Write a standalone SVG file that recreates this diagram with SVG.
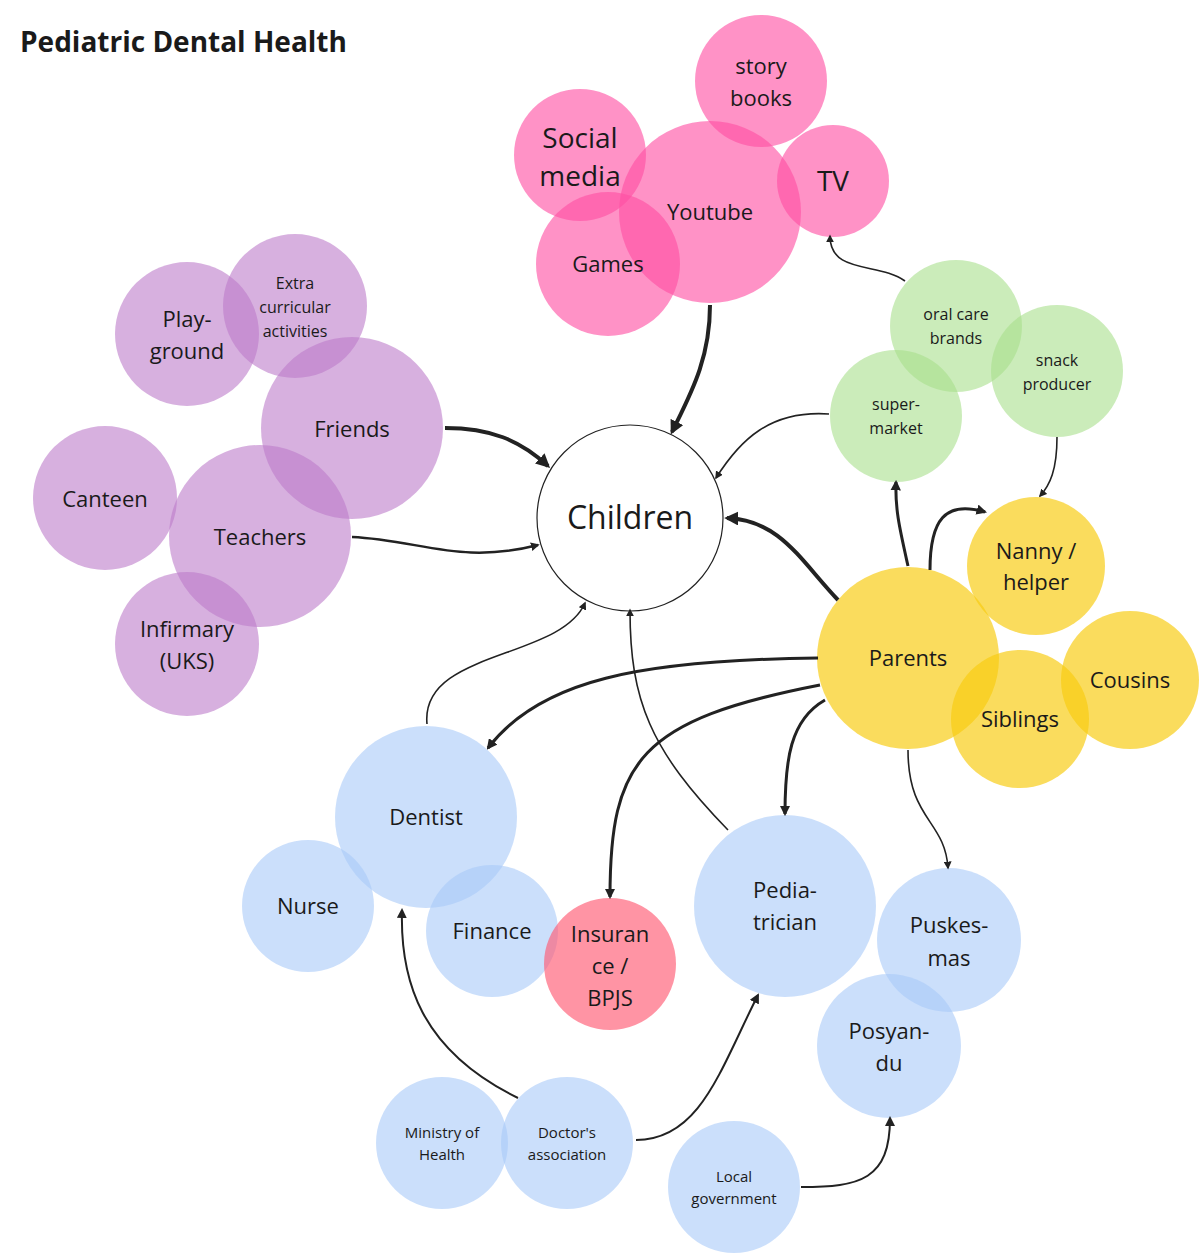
<svg xmlns="http://www.w3.org/2000/svg" width="1200" height="1254" viewBox="0 0 1200 1254">
<defs>
<style>
text{font-family:"Open Sans","Noto Sans",sans-serif;fill:#1a1a1a;text-anchor:middle}
.t{font-size:22px}.s{font-size:16px}.xs{font-size:15px}
.pk{fill:#ff4fa3;fill-opacity:.62}.pu{fill:#bd7bc9;fill-opacity:.6}.gr{fill:#a8e08c;fill-opacity:.6}
.ye{fill:#f8cc10;fill-opacity:.68}.bl{fill:#a9c9f9;fill-opacity:.6}.rd{fill:#ff5a73;fill-opacity:.65}
.c{fill:none;stroke:#222;stroke-width:1.6}.k{stroke-width:4}
</style>
<marker id="a" viewBox="0 0 10 10" refX="8" refY="5" markerWidth="5" markerHeight="5" orient="auto" markerUnits="strokeWidth"><path d="M0,0L10,5L0,10z" fill="#222"/></marker>
<marker id="b" viewBox="0 0 10 10" refX="8" refY="5" markerWidth="3.5" markerHeight="3.5" orient="auto" markerUnits="strokeWidth"><path d="M0,0L10,5L0,10z" fill="#222"/></marker>
</defs>
<rect width="1200" height="1254" fill="#fff"/>
<text x="20" y="52" style="font-size:28px;font-weight:bold;text-anchor:start">Pediatric Dental Health</text>
<g id="storybooks"><circle cx="761" cy="81" r="66" class="pk"/><text x="761" y="74" class="t">story</text><text x="761" y="106" class="t">books</text></g>
<g id="socialmedia"><circle cx="580" cy="155" r="66" class="pk"/><text x="580" y="148" style="font-size:28px">Social</text><text x="580" y="186" style="font-size:28px">media</text></g>
<g id="youtube"><circle cx="710" cy="212" r="91" class="pk"/><text x="710" y="220" class="t">Youtube</text></g>
<g id="tv"><circle cx="833" cy="181" r="56" class="pk"/><text x="833" y="191" style="font-size:28px">TV</text></g>
<g id="games"><circle cx="608" cy="264" r="72" class="pk"/><text x="608" y="272" class="t">Games</text></g>
<g id="playground"><circle cx="187" cy="334" r="72" class="pu"/><text x="187" y="327" class="t">Play-</text><text x="187" y="359" class="t">ground</text></g>
<g id="extra"><circle cx="295" cy="306" r="72" class="pu"/><text x="295" y="289" class="s">Extra</text><text x="295" y="313" class="s">curricular</text><text x="295" y="337" class="s">activities</text></g>
<g id="friends"><circle cx="352" cy="428" r="91" class="pu"/><text x="352" y="437" class="t">Friends</text></g>
<g id="canteen"><circle cx="105" cy="498" r="72" class="pu"/><text x="105" y="507" class="t">Canteen</text></g>
<g id="teachers"><circle cx="260" cy="536" r="91" class="pu"/><text x="260" y="545" class="t">Teachers</text></g>
<g id="infirmary"><circle cx="187" cy="644" r="72" class="pu"/><text x="187" y="637" class="t">Infirmary</text><text x="187" y="669" class="t">(UKS)</text></g>
<g id="children"><circle cx="630" cy="518" r="93" fill="#fff" stroke="#222" stroke-width="1.2"/><text x="630" y="529" style="font-size:32px">Children</text></g>
<g id="oralcare"><circle cx="956" cy="326" r="66" class="gr"/><text x="956" y="320" class="s">oral care</text><text x="956" y="344" class="s">brands</text></g>
<g id="snack"><circle cx="1057" cy="371" r="66" class="gr"/><text x="1057" y="366" class="s">snack</text><text x="1057" y="390" class="s">producer</text></g>
<g id="supermarket"><circle cx="896" cy="416" r="66" class="gr"/><text x="896" y="410" class="s">super-</text><text x="896" y="434" class="s">market</text></g>
<g id="nanny"><circle cx="1036" cy="566" r="69" class="ye"/><text x="1036" y="559" class="t">Nanny /</text><text x="1036" y="590" class="t">helper</text></g>
<g id="parents"><circle cx="908" cy="658" r="91" class="ye"/><text x="908" y="666" class="t">Parents</text></g>
<g id="cousins"><circle cx="1130" cy="680" r="69" class="ye"/><text x="1130" y="688" class="t">Cousins</text></g>
<g id="siblings"><circle cx="1020" cy="719" r="69" class="ye"/><text x="1020" y="727" class="t">Siblings</text></g>
<g id="dentist"><circle cx="426" cy="817" r="91" class="bl"/><text x="426" y="825" class="t">Dentist</text></g>
<g id="nurse"><circle cx="308" cy="906" r="66" class="bl"/><text x="308" y="914" class="t">Nurse</text></g>
<g id="finance"><circle cx="492" cy="931" r="66" class="bl"/><text x="492" y="939" class="t">Finance</text></g>
<g id="insurance"><circle cx="610" cy="964" r="66" class="rd"/><text x="610" y="942" class="t">Insuran</text><text x="610" y="974" class="t">ce /</text><text x="610" y="1006" class="t">BPJS</text></g>
<g id="pediatrician"><circle cx="785" cy="906" r="91" class="bl"/><text x="785" y="898" class="t">Pedia-</text><text x="785" y="930" class="t">trician</text></g>
<g id="puskesmas"><circle cx="949" cy="940" r="72" class="bl"/><text x="949" y="933" class="t">Puskes-</text><text x="949" y="966" class="t">mas</text></g>
<g id="posyandu"><circle cx="889" cy="1046" r="72" class="bl"/><text x="889" y="1039" class="t">Posyan-</text><text x="889" y="1071" class="t">du</text></g>
<g id="ministry"><circle cx="442" cy="1143" r="66" class="bl"/><text x="442" y="1138" class="xs">Ministry of</text><text x="442" y="1160" class="xs">Health</text></g>
<g id="doctors"><circle cx="567" cy="1143" r="66" class="bl"/><text x="567" y="1138" class="xs">Doctor's</text><text x="567" y="1160" class="xs">association</text></g>
<g id="localgov"><circle cx="734" cy="1187" r="66" class="bl"/><text x="734" y="1182" class="xs">Local</text><text x="734" y="1204" class="xs">government</text></g>
<g id="connectors">
<path class="c k" marker-end="url(#b)" d="M710,305 C710,360 690,395 672,432"/>
<path class="c k" marker-end="url(#b)" d="M445,428 C490,428 520,440 548,466"/>
<path class="c" style="stroke-width:2.5" marker-end="url(#b)" d="M352,537 C420,540 460,565 538,545"/>
<path class="c k" marker-end="url(#b)" d="M838,600 C800,560 780,520 727,518"/>
<path class="c" marker-end="url(#a)" d="M829,414 C770,410 740,440 716,478"/>
<path class="c" marker-end="url(#a)" d="M905,281 C880,262 830,275 830,236"/>
<path class="c" marker-end="url(#a)" d="M1057,437 C1057,470 1050,485 1040,496"/>
<path class="c" style="stroke-width:3" marker-end="url(#b)" d="M908,566 C900,530 895,510 896,482"/>
<path class="c" style="stroke-width:3" marker-end="url(#b)" d="M930,570 C930,520 945,500 985,512"/>
<path class="c" style="stroke-width:3" marker-end="url(#b)" d="M818,658 C640,660 540,680 488,748"/>
<path class="c" style="stroke-width:3" marker-end="url(#b)" d="M820,685 C640,720 610,760 610,897"/>
<path class="c" style="stroke-width:3" marker-end="url(#b)" d="M825,700 C790,720 785,760 785,814"/>
<path class="c" marker-end="url(#a)" d="M908,750 C908,820 945,820 948,868"/>
<path class="c" marker-end="url(#a)" d="M427,724 C420,650 560,660 585,603"/>
<path class="c" marker-end="url(#a)" d="M728,830 C650,750 630,700 630,610"/>
<path class="c" style="stroke-width:2" marker-end="url(#a)" d="M518,1098 C420,1050 400,980 402,910"/>
<path class="c" style="stroke-width:2" marker-end="url(#a)" d="M636,1140 C700,1140 720,1070 758,995"/>
<path class="c" style="stroke-width:2" marker-end="url(#a)" d="M801,1187 C860,1187 890,1180 890,1118"/>
</g>
</svg>
